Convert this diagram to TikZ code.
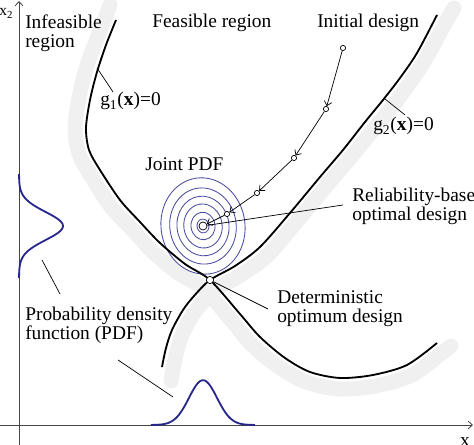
\documentclass[tikz,border=0pt]{standalone}
\usepackage{fontspec}
\setmainfont{Liberation Serif}
\usetikzlibrary{arrows.meta}
\definecolor{pdfblue}{RGB}{40,40,140}
\definecolor{ringblue}{RGB}{75,75,160}
\definecolor{axisgray}{RGB}{70,70,70}

\begin{document}
\begin{tikzpicture}[
    >={Straight Barb[length=3pt,width=5.5pt]},
    lbl/.style={font=\fontsize{13.8}{14.2}\selectfont, inner sep=0pt, align=left, anchor=base west},
    limit/.style={line width=1.3pt},
    band/.style={line width=0.375cm, gray!12, line cap=round},
    bell/.style={line width=1.3pt, pdfblue},
    ring/.style={line width=0.6pt, ringblue},
    pt/.style={circle, draw, fill=white, inner sep=0pt, minimum size=0.13cm, line width=0.5pt},
    leader/.style={line width=0.5pt}
]
\useasboundingbox (-0.475,-0.5) rectangle (11.375,10.625);

% Infeasible bands
\draw[band] plot[smooth] coordinates {(2.275,10.5) (2.175,10.225) (1.925,9.6) (1.675,8.9) (1.5,8.175) (1.4,7.425) (1.5,6.775) (1.8,6.225) (2.3,5.45) (2.825,4.9) (3.325,4.35) (3.975,3.8) (4.6,3.425) (5.325,2.6) (5.825,2.0) (6.5,1.45) (7.175,1.075) (8.0,0.9) (8.9,0.975) (9.825,1.25) (10.6,1.825) (10.8,1.975)};
\draw[band] plot[smooth] coordinates {(10.875,10.425) (10.7,10.125) (10.15,9.125) (9.75,8.525) (9.325,7.95) (8.875,7.4) (8.3,6.7) (7.725,6.025) (6.975,5.125) (6.225,4.25) (5.55,3.75) (4.925,3.4) (4.575,3.05) (4.325,2.725) (4.075,2.25) (3.95,1.85) (3.85,1.4) (3.8,1.1)};

% Axes
\coordinate (O) at (0,0);
\coordinate (xstart) at (-0.475,0);
\coordinate (xend) at (11.35,0);
\coordinate (ystart) at (0,-0.5);
\coordinate (yend) at (0,10.6);
\draw[->, axisgray, line width=0.6pt] (xstart) -- (xend);
\draw[->, axisgray, line width=0.6pt] (ystart) -- (yend);
\node[lbl, anchor=base] (xlbl) at (11.15,-0.53) {x};
\node[lbl, anchor=base east, font=\fontsize{11}{12}\selectfont] (ylbl) at (-0.14,10.225) {x\textsubscript{2}};

% Joint PDF
\begin{scope}[shift={(4.6,4.975)}, rotate=8]
\foreach \r in {1.05,0.83,0.65,0.48,0.30,0.15}
    \draw[ring] (0,0) ellipse ({\r} and {1.15*\r});
\end{scope}

% Limit states
\draw[limit] plot[smooth] coordinates {(2.425,10.125) (2.175,9.5) (1.95,8.825) (1.775,8.125) (1.675,7.425) (1.75,6.875) (2.025,6.375) (2.525,5.625) (3.025,5.075) (3.525,4.55) (4.15,4.025) (4.775,3.625) (5.525,2.775) (6.025,2.2) (6.65,1.675) (7.275,1.325) (8.025,1.175) (8.85,1.25) (9.7,1.5) (10.45,2.05)};
\draw[limit] plot[smooth] coordinates {(10.45,10.25) (9.95,9.3) (9.525,8.675) (9.1,8.125) (8.65,7.575) (8.1,6.875) (7.525,6.2) (6.775,5.3) (6.025,4.45) (5.4,3.975) (4.775,3.625) (4.375,3.225) (4.1,2.875) (3.825,2.375) (3.675,1.925) (3.575,1.45)};

% Marginal PDFs
\draw[bell] plot[domain=-1.3:1.3, samples=61] ({1.1*exp(-(\x/0.35)^2/2)}, {4.975+\x});
\draw[bell] plot[domain=-1.3:1.3, samples=61] ({4.6+\x}, {1.12*exp(-(\x/0.35)^2/2)});

% Design points
\node[pt] (p0) at (8.1,9.425) {};
\node[pt] (p1) at (7.675,7.9) {};
\node[pt] (p2) at (6.875,6.675) {};
\node[pt] (p3) at (5.95,5.8) {};
\node[pt] (p4) at (5.2,5.275) {};
\node[pt, minimum size=0.2cm] (opt) at (4.6,4.975) {};
\node[pt, minimum size=0.18cm] (det) at (4.775,3.625) {};
\foreach \a/\b in {p0/p1,p1/p2,p2/p3,p3/p4,p4/opt}
    \draw[->, line width=0.5pt] (\a) -- (\b);

% Labels (multi-line ones sit on their last line)
\node[lbl] (infeas) at (0.15,9.425) {Infeasible\\region};
\node[lbl] (feas) at (3.325,9.925) {Feasible region};
\node[lbl] (init) at (7.45,9.925) {Initial design};
\node[lbl] (joint) at (3.15,6.35) {Joint PDF};
\node[lbl] (g1lbl) at (2.025,7.975) {g\textsubscript{1}(\textbf{x})=0};
\node[lbl] (g2lbl) at (8.85,7.35) {g\textsubscript{2}(\textbf{x})=0};
\node[lbl] (rbdo) at (8.325,5.1) {Reliability-based\\optimal design};
\node[lbl] (ddo) at (6.45,2.55) {Deterministic\\optimum design};
\node[lbl] (pdf) at (0.15,2.125) {Probability density\\function (PDF)};

% Leaders
\coordinate (g1tick) at (1.95,8.925);
\coordinate (g1end) at (2.35,8.325);
\coordinate (g2tick) at (9.15,8.15);
\coordinate (g2end) at (9.65,7.75);
\coordinate (rbdoend) at (8.1,5.5);
\coordinate (ddoend) at (6.225,2.9);
\coordinate (pdfx) at (3.85,0.7);
\coordinate (pdfxend) at (2.475,1.625);
\coordinate (pdfy) at (0.575,4.125);
\coordinate (pdfyend) at (1.025,3.275);
\draw[leader] (g1tick) -- (g1end);
\draw[leader] (g2tick) -- (g2end);
\draw[leader] (rbdoend) -- (opt);
\draw[leader] (det) -- (ddoend);
\draw[leader] (pdfxend) -- (pdfx);
\draw[leader] (pdfy) -- (pdfyend);
\end{tikzpicture}
\end{document}
